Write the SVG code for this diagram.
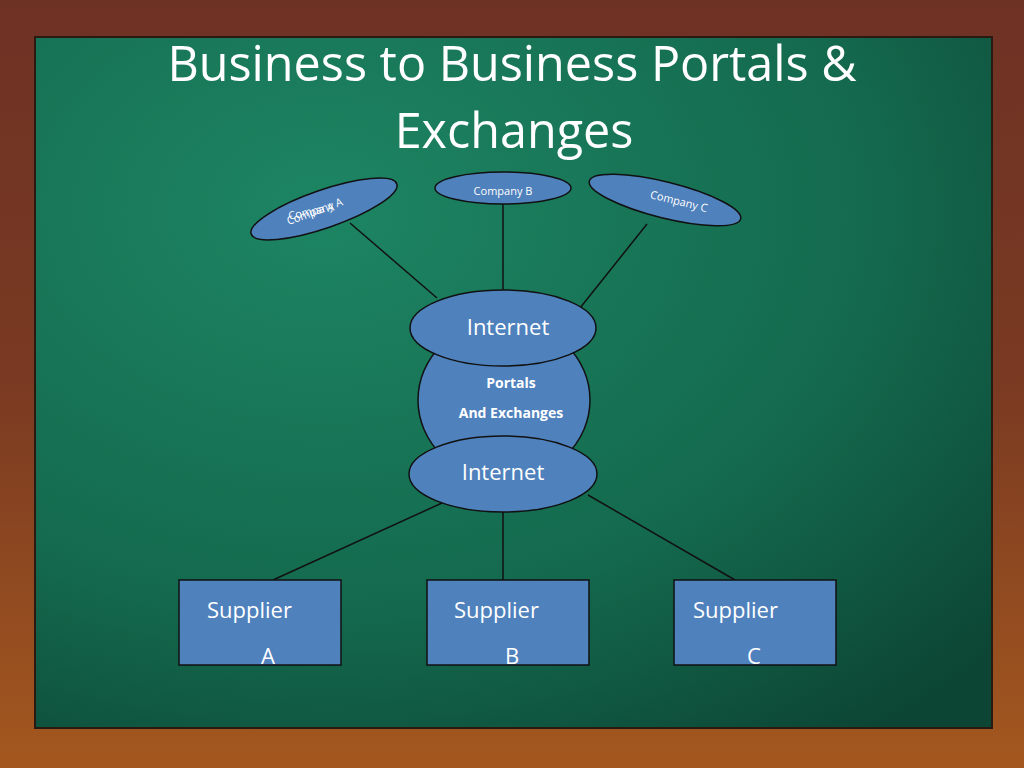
<svg xmlns="http://www.w3.org/2000/svg" width="1024" height="768" viewBox="0 0 1024 768">
<defs>
<linearGradient id="wood" x1="0" y1="0" x2="0" y2="1">
<stop offset="0" stop-color="#6e3225"/>
<stop offset="0.5" stop-color="#7a3a22"/>
<stop offset="1" stop-color="#a4581f"/>
</linearGradient>
<radialGradient id="board" cx="0.3" cy="0.25" r="0.95">
<stop offset="0" stop-color="#1d8563"/>
<stop offset="0.6" stop-color="#146a4e"/>
<stop offset="1" stop-color="#0c4534"/>
</radialGradient>
<style>
.shape{fill:#4f81bd;stroke:#111;stroke-width:1.5}
.conn line{stroke:#111;stroke-width:1.5}
text{font-family:"Open Sans","Liberation Sans",sans-serif;fill:#fff}
.title{font-size:48.5px;text-anchor:middle}
.small{font-size:11px;text-anchor:middle}
.mid{font-size:22px;text-anchor:middle}
.bold{font-size:14px;font-weight:bold;text-anchor:middle}
.sup{font-size:22px}
</style>
</defs>
<rect x="0" y="0" width="1024" height="768" fill="url(#wood)"/>
<rect x="34" y="36" width="959" height="693" fill="#2a1a12"/>
<rect x="36" y="38" width="955" height="689" fill="url(#board)"/>
<g id="title">
<text class="title" x="512" y="81">Business to Business Portals &amp;</text>
<text class="title" x="514" y="148">Exchanges</text>
</g>
<g id="connectors" class="conn">
<line x1="350" y1="223" x2="437" y2="298"/>
<line x1="503" y1="204" x2="503" y2="292"/>
<line x1="647" y1="224" x2="580" y2="308"/>
<line x1="442" y1="503" x2="273" y2="580"/>
<line x1="503" y1="511" x2="503" y2="580"/>
<line x1="588" y1="495" x2="735" y2="580"/>
</g>
<g id="companyA">
<ellipse class="shape" cx="324" cy="209" rx="77" ry="19" transform="rotate(-19 324 209)"/>
<text class="small" x="316" y="215" transform="rotate(-20 316 215)">Company A</text>
<text class="small" x="312" y="215" transform="rotate(-12 312 215)">Compa A</text>
</g>
<g id="companyB">
<ellipse class="shape" cx="503" cy="188" rx="68" ry="16"/>
<text class="small" x="503" y="195">Company B</text>
</g>
<g id="companyC">
<ellipse class="shape" cx="665" cy="200" rx="78" ry="18" transform="rotate(14 665 200)"/>
<text class="small" x="678" y="205" transform="rotate(14 678 205)">Company C</text>
</g>
<g id="portals">
<ellipse class="shape" cx="504" cy="400" rx="86" ry="80"/>
<text class="bold" x="511" y="388">Portals</text>
<text class="bold" x="511" y="418">And Exchanges</text>
</g>
<g id="internetTop">
<ellipse class="shape" cx="503" cy="328" rx="93" ry="38"/>
<text class="mid" x="508" y="335">Internet</text>
</g>
<g id="internetBottom">
<ellipse class="shape" cx="503" cy="474" rx="94" ry="38"/>
<text class="mid" x="503" y="480">Internet</text>
</g>
<g id="supplierA">
<rect class="shape" x="179" y="580" width="162" height="85"/>
<text class="sup" x="207" y="618">Supplier</text>
<text class="sup" x="261" y="664">A</text>
</g>
<g id="supplierB">
<rect class="shape" x="427" y="580" width="162" height="85"/>
<text class="sup" x="454" y="618">Supplier</text>
<text class="sup" x="505" y="664">B</text>
</g>
<g id="supplierC">
<rect class="shape" x="674" y="580" width="162" height="85"/>
<text class="sup" x="693" y="618">Supplier</text>
<text class="sup" x="747" y="664">C</text>
</g>
</svg>
